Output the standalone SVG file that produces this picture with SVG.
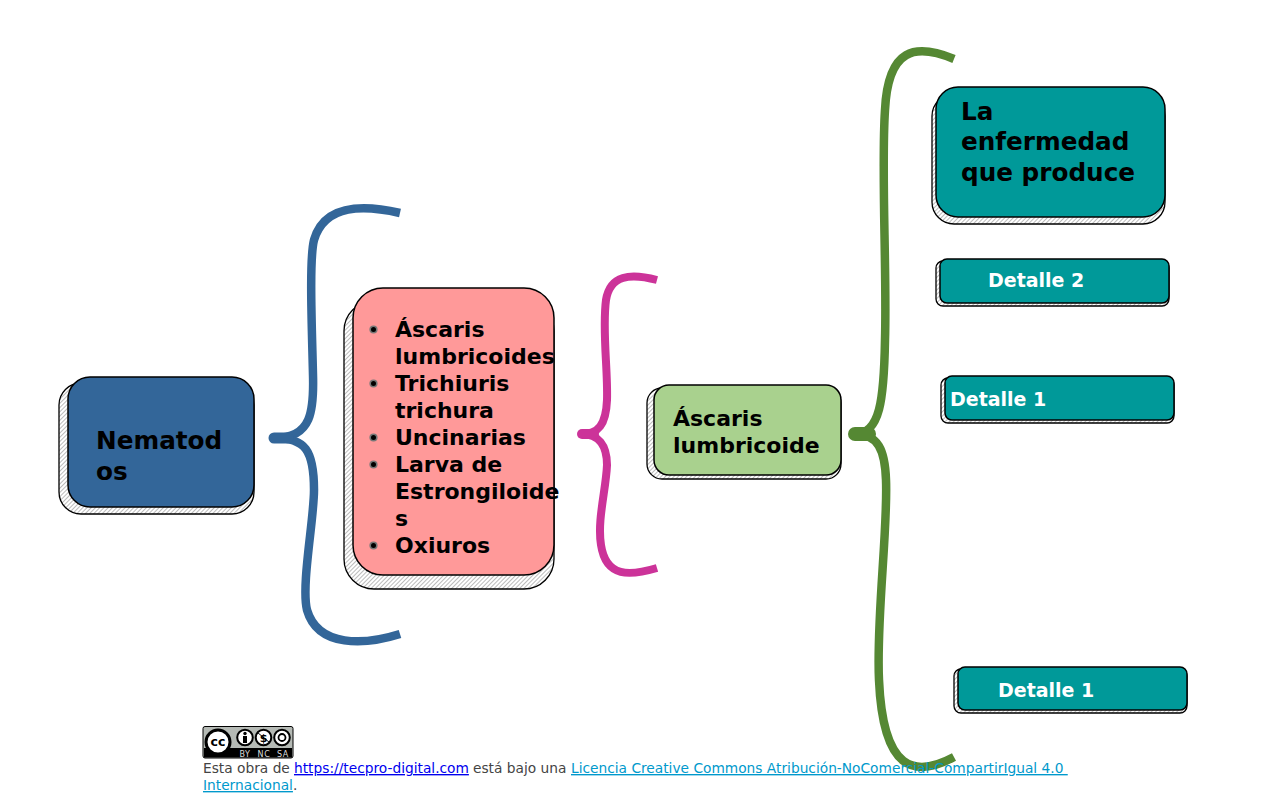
<svg xmlns="http://www.w3.org/2000/svg" width="1280" height="798" viewBox="0 0 1280 798">
<style>
text{font-family:"DejaVu Sans",Verdana,sans-serif}
.t{font-weight:bold;font-size:24.7px;fill:#000}
.m{font-weight:bold;font-size:22px;fill:#000}
.d{font-weight:bold;font-size:19px;fill:#fff}
.b{fill:none;stroke-linecap:butt;stroke-linejoin:round}
.s{fill:url(#h);stroke:#000;stroke-width:1.300}
.n{stroke:#000;stroke-width:1.500}
.f{font-size:13.75px;fill:#444}
.a{font-size:13.75px;fill:#0099cc;text-decoration:underline}
.l{font-size:13.75px;fill:#0000ee;text-decoration:underline}
.u{fill:#000;stroke:#777;stroke-width:1.600}
</style>
<defs>
<pattern id="h" width="3" height="3" patternUnits="userSpaceOnUse" patternTransform="rotate(45)">
<rect width="3" height="3" fill="#fff"/><rect width="1" height="3" fill="#bbb"/>
</pattern>
</defs>
<g id="connectors">
<path class="b" stroke="#336699" stroke-width="8.500" d="M400 213C365 205 325 203 314 240C309 260 312 330 313 375C314 410 312 438 275 438"/>
<path class="b" stroke="#336699" stroke-width="8.500" d="M400 634C365 645 318 648 307 610C301 585 314 520 314 490C314 450 305 438 275 438"/>
<path d="M274 438h14" stroke="#336699" stroke-width="11" stroke-linecap="round"/>
<path class="b" stroke="#cc3399" stroke-width="8" d="M657 280C630 273 610 275 606 300C602 330 608 370 607 400C606 425 598 434 582 434"/>
<path class="b" stroke="#cc3399" stroke-width="8" d="M657 568C630 576 606 578 601 545C597 520 606 490 607 465C607 445 598 434 582 434"/>
<path d="M582 434h12" stroke="#cc3399" stroke-width="10" stroke-linecap="round"/>
<path class="b" stroke="#558833" stroke-width="8.500" d="M954 59C915 43 888 48 885 110C881 170 887 270 885 340C884 400 880 434 855 434"/>
<path class="b" stroke="#558833" stroke-width="8.500" d="M954 757C915 778 883 772 879 680C876 620 888 530 886 480C885 450 878 434 855 434"/>
<path d="M855 434h14" stroke="#558833" stroke-width="14" stroke-linecap="round"/>
</g>
<g id="node-nematodos">
<rect class="s" x="59" y="383" width="195" height="131" rx="22"/>
<rect class="n" fill="#336699" x="68" y="377" width="186" height="130" rx="22"/>
<text class="t" x="96" y="449">Nematod</text>
<text class="t" x="96" y="480">os</text>
</g>
<g id="node-lista">
<rect class="s" x="344" y="301" width="210" height="288" rx="30"/>
<rect class="n" fill="#ff9999" x="353" y="288" width="201" height="287" rx="30"/>
<circle class="u" cx="373.500" cy="329.500" r="3.300"/>
<circle class="u" cx="373.500" cy="383.500" r="3.300"/>
<circle class="u" cx="373.500" cy="437.500" r="3.300"/>
<circle class="u" cx="373.500" cy="464.500" r="3.300"/>
<circle class="u" cx="373.500" cy="545.500" r="3.300"/>
<text class="m" x="395" y="337">Áscaris</text>
<text class="m" x="395" y="364">lumbricoides</text>
<text class="m" x="395" y="391">Trichiuris</text>
<text class="m" x="395" y="418">trichura</text>
<text class="m" x="395" y="445">Uncinarias</text>
<text class="m" x="395" y="472">Larva de</text>
<text class="m" x="395" y="499">Estrongiloide</text>
<text class="m" x="395" y="526">s</text>
<text class="m" x="395" y="553">Oxiuros</text>
</g>
<g id="node-ascaris">
<rect class="s" x="647" y="388" width="194" height="91" rx="15"/>
<rect class="n" fill="#a9d18e" x="654" y="385" width="187" height="90" rx="15"/>
<text class="m" x="673" y="426">Áscaris</text>
<text class="m" x="673" y="453">lumbricoide</text>
</g>
<g id="node-enfermedad">
<rect class="s" x="932" y="94" width="233" height="130" rx="22"/>
<rect class="n" fill="#009999" x="936" y="87" width="229" height="130" rx="22"/>
<text class="t" x="961" y="120">La</text>
<text class="t" x="961" y="150">enfermedad</text>
<text class="t" x="961" y="181">que produce</text>
</g>
<g id="node-detalle2">
<rect class="s" x="936" y="261" width="233" height="45" rx="7"/>
<rect class="n" fill="#009999" x="940" y="259" width="229" height="44" rx="7"/>
<text class="d" x="988" y="287">Detalle 2</text>
</g>
<g id="node-detalle1a">
<rect class="s" x="941" y="378" width="233" height="45" rx="7"/>
<rect class="n" fill="#009999" x="945" y="376" width="229" height="44" rx="7"/>
<text class="d" x="950" y="406">Detalle 1</text>
</g>
<g id="node-detalle1b">
<rect class="s" x="954" y="669" width="233" height="44" rx="7"/>
<rect class="n" fill="#009999" x="958" y="667" width="229" height="43" rx="7"/>
<text class="d" x="998" y="697">Detalle 1</text>
</g>
<g id="license">
<rect x="203" y="726.500" width="90" height="31.500" rx="2" fill="#b5bab5" stroke="#000"/>
<rect x="204" y="748" width="88" height="9.500" fill="#000"/>
<circle cx="218" cy="742" r="12" fill="#fff" stroke="#000" stroke-width="3"/>
<text x="218" y="746" text-anchor="middle" font-size="12.500" font-weight="bold" fill="#000">cc</text>
<circle cx="245" cy="737.500" r="7.800" fill="#fff" stroke="#000" stroke-width="2"/>
<circle cx="245" cy="733.500" r="1.700"/><rect x="243" y="736" width="4" height="7"/>
<circle cx="263.500" cy="737.500" r="7.800" fill="#fff" stroke="#000" stroke-width="2"/>
<text x="263.500" y="741.500" text-anchor="middle" font-size="11" font-weight="bold" fill="#000">$</text>
<path d="M257.500 732.500l12 10" stroke="#000"/>
<circle cx="282" cy="737.500" r="7.800" fill="#fff" stroke="#000" stroke-width="2"/>
<circle cx="282" cy="737.500" r="3.500" fill="none" stroke="#000" stroke-width="1.800"/>
<text x="245" y="756.500" text-anchor="middle" font-size="8" letter-spacing=".6" fill="#ddd">BY</text>
<text x="264" y="756.500" text-anchor="middle" font-size="8" letter-spacing=".6" fill="#ddd">NC</text>
<text x="283" y="756.500" text-anchor="middle" font-size="8" letter-spacing=".6" fill="#ddd">SA</text>
<text class="f" x="203" y="773">Esta obra de</text>
<text class="l" x="294" y="773">https://tecpro-digital.com</text>
<text class="f" x="473" y="773">está bajo una</text>
<text class="a" x="571" y="773" xml:space="preserve">Licencia Creative Commons Atribución-NoComercial-CompartirIgual 4.0 </text>
<text class="a" x="203" y="790">Internacional</text>
<text class="f" x="293" y="790">.</text>
</g>
</svg>
